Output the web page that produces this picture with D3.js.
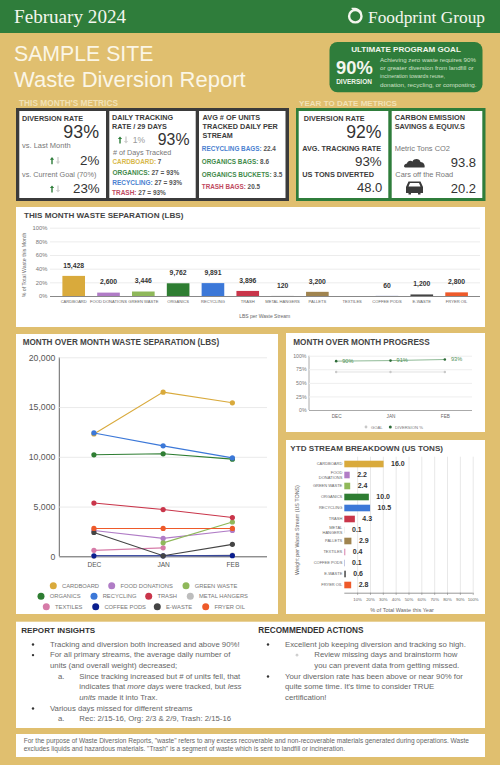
<!DOCTYPE html>
<html><head><meta charset="utf-8">
<script src="https://cdnjs.cloudflare.com/ajax/libs/d3/7.8.5/d3.min.js"></script>
<style>html,body{margin:0;padding:0;background:#e0bf6f}svg{display:block}text{font-family:"Liberation Sans",Arial,sans-serif}</style>
</head><body><svg id="c" width="500" height="765"></svg>
<script>
// ---------- data ----------
const monthStreams = ["CARDBOARD","FOOD DONATIONS","GREEN WASTE","ORGANICS","RECYCLING","TRASH","METAL HANGERS","PALLETS","TEXTILES","COFFEE PODS","E-WASTE","FRYER OIL"];
const streamColors = ["#d9aa3c","#b07cc6","#8fb85a","#2e7d32","#3c78d8","#c9354a","#bdbdbd","#a0844f","#d67ba8","#0b1f8f","#444444","#ee5a2a"];
const monthLbs = [15428,2600,3446,9762,9891,3896,120,3200,0,60,1200,2800];
const months = ["DEC","JAN","FEB"];
const cardboardLbs = [12300,16500,15428];
const foodLbs = [2600,1800,2600];
const greenLbs = [null,1350,3446];
const organicsLbs = [10200,10300,9762];
const recyclingLbs = [12400,11100,9891];
const trashLbs = [5350,4700,3896];
const metalLbs = [0,0,120];
const textilesLbs = [600,850,null];
const coffeeLbs = [50,50,60];
const ewasteLbs = [2400,50,1200];
const fryerLbs = [2800,2800,2800];
const goalPct = [70,70,70];
const diversionPct = [90,91,93];
const ytdTons = [16.0,2.2,2.4,10.0,10.5,4.3,0.1,2.9,0.4,0.1,0.6,2.8];
const lineSeries = [
 [metalLbs,6],[textilesLbs,8],[foodLbs,1],[greenLbs,2],[coffeeLbs,9],[ewasteLbs,10],
 [trashLbs,5],[organicsLbs,3],[cardboardLbs,0],[recyclingLbs,4],[fryerLbs,11]];

const svg = d3.select("#c");
function T(s,x,y,o={}){
  const e=svg.append("text").attr("x",x).attr("y",y).attr("font-size",o.s||6.6).attr("fill",o.c||"#333")
   .attr("font-weight",o.b?"bold":"normal").attr("text-anchor",o.a||"start");
  if(o.f) e.style("font-family",o.f);
  if(o.rot) e.attr("transform",`rotate(-90 ${x} ${y})`);
  if(Array.isArray(s)) s.forEach(p=>{const t=e.append("tspan").text(p[0]); if(p[1]) t.attr("font-style","italic");});
  else e.text(s);
  if(o.w){const base=+e.attr("font-size"); const len=e.node().getComputedTextLength(); if(len>0) e.attr("font-size",base*o.w/len);}
  return e;
}
function fit(str,width,bold){const e=T(str,0,-50,{s:10,b:bold}); const v=10*width/e.node().getComputedTextLength(); e.remove(); return v;}
function R(x0,y0,x1,y1,fill,rx){return svg.append("rect").attr("x",x0).attr("y",y0).attr("width",x1-x0).attr("height",y1-y0).attr("fill",fill).attr("rx",rx||0);}

// ---------- header ----------
const GREEN="#2f7d3b";
R(0,0,500,33,GREEN);
T("February 2024",14,22.6,{w:112,c:"#f4f6ee",f:'"Liberation Serif",serif'});
T("Foodprint Group",485,22.6,{w:117,c:"#f4f6ee",a:"end",f:'"Liberation Serif",serif'});
svg.append("circle").attr("cx",355.3).attr("cy",16.2).attr("r",6.2).attr("fill","none").attr("stroke","#f4f6ee").attr("stroke-width",2.4);
svg.append("path").attr("d","M351 8 C356 7 361 9 362 13 C358 11 354 11 351 8Z").attr("fill","#f4f6ee");
T("SAMPLE SITE",14,60.7,{w:139.5,c:"#fbf6e6"});
T("Waste Diversion Report",14,87,{w:231.7,c:"#fbf6e6"});
R(329.5,42,482.5,92.3,GREEN,8);
T("ULTIMATE PROGRAM GOAL",406,52.3,{w:109.7,b:1,c:"#f2f5ec",a:"middle"});
T("90%",336,74,{w:36.7,b:1,c:"#f4f6ee"});
T("DIVERSION",336.2,84.4,{w:35.7,b:1,c:"#f2f5ec"});
[["Achieving zero waste requires 90%",96,61.7],["or greater diversion from landfill or",93.7,70],["incineration towards reuse,",65,78.3],["donation, recycling, or composting.",96.7,87.2]]
 .forEach(l=>T(l[0],380,l[2],{w:l[1],c:"#cfe0c8"}));

// ---------- metrics ----------
T("THIS MONTH'S METRICS",19,106,{w:99,b:1,c:"#f1e2b7"});
T("YEAR TO DATE METRICS",299,106,{w:98,b:1,c:"#f1e2b7"});
R(16,108,289,201,"#3b3b3b");
[[19.3,106],[109.3,195.7],[199,285.5]].forEach(d=>R(d[0],111,d[1],198,"#fff"));
R(296,108,485.5,201,GREEN);
[[298.7,388.3],[391.7,482.3]].forEach(d=>R(d[0],111,d[1],198,"#fff"));
const HC="#3c3c3c", NC="#777", TXT="#333";
function arrows(x,y){
  const tri=(cx,cy,dir,col)=>{
    svg.append("path").attr("d",`M${cx} ${cy-3.6*dir}L${cx+2.1} ${cy-0.9*dir}L${cx+0.7} ${cy-0.9*dir}L${cx+0.7} ${cy+3.6*dir}L${cx-0.7} ${cy+3.6*dir}L${cx-0.7} ${cy-0.9*dir}L${cx-2.1} ${cy-0.9*dir}Z`).attr("fill",col);
  };
  tri(x,y,1,"#2e7d3a"); tri(x+6,y,-1,"#cfcfcf");
}
T("DIVERSION RATE",22,121.3,{w:61,b:1,c:HC});
T("93%",99,138,{w:35.7,c:TXT,a:"end"});
T("vs. Last Month",22,148.3,{w:48.7,c:NC});
arrows(52,160.7);
T("2%",99.3,165,{w:19.3,c:TXT,a:"end"});
T("vs. Current Goal (70%)",22,176.7,{w:74.3,c:NC});
arrows(52,189);
T("23%",99.7,193,{w:26.7,c:TXT,a:"end"});

T("DAILY TRACKING",112,120,{w:61.3,b:1,c:HC});T("RATE / 29 DAYS",112,128.7,{w:55,b:1,c:HC});
arrows(120,140);
T("1%",132.7,142.7,{w:12.3,c:"#999"});
T("93%",189.5,145,{w:31.7,c:TXT,a:"end"});
T("# of Days Tracked",113,155,{w:58.3,c:NC});
function kv(k,v,col,x,y,w){const e=T("",x,y,{s:6,b:1,c:col});e.text(k);e.append("tspan").text(v).attr("fill","#555");
  e.attr("font-size",6*w/e.node().getComputedTextLength());}
kv("CARDBOARD:"," 7","#d8b84a",112.5,164.3,49);
kv("ORGANICS:"," 27 = 93%","#3f8a4a",112.5,174.7,66.7);
kv("RECYCLING:"," 27 = 93%","#4a7fd0",112.2,185,70);
kv("TRASH:"," 27 = 93%","#c04a60",112,195,54);

T("AVG # OF UNITS",202.5,120.3,{w:57.7,b:1,c:HC});T("TRACKED DAILY PER",202.5,129.3,{w:75.3,b:1,c:HC});T("STREAM",202.5,138,{w:30.3,b:1,c:HC});
kv("RECYCLING BAGS:"," 22.4","#4a7fd0",201.8,151.3,74.3);
kv("ORGANICS BAGS:"," 8.6","#3f8a4a",201.8,163.7,67.3);
kv("ORGANICS BUCKETS:"," 3.5","#3f8a4a",201.8,176.7,80.7);
kv("TRASH BAGS:"," 20.5","#c04a60",201.8,189,58.3);

T("DIVERSION RATE",303.7,121,{w:61,b:1,c:HC});
T("92%",381.5,138,{w:35.3,c:TXT,a:"end"});
T("AVG. TRACKING RATE",302.3,151,{w:78.7,b:1,c:HC});
T("93%",381.7,165.7,{w:26.7,c:TXT,a:"end"});
T("US TONS DIVERTED",302.3,177.3,{w:71.7,b:1,c:HC});
T("48.0",382.3,192.3,{w:25.3,c:TXT,a:"end"});

T("CARBON EMISSION",394.7,120.3,{w:70.3,b:1,c:HC});T("SAVINGS & EQUIV.S",394.7,129.3,{w:70.3,b:1,c:HC});
T("Metric Tons CO2",394.7,151,{w:55.3,c:NC});
svg.append("path").attr("d","M405.5 167.5 C403 167.5 404 163.5 407 163.5 C407.5 160.5 411 160 412.5 161.5 C414 158 420 158.5 420.5 162 C423 161.8 425.5 165 424.5 167.5Z").attr("fill","#3a3a3a");
T("93.8",476,167,{w:25.3,c:TXT,a:"end"});
T("Cars off the Road",395.3,176.7,{w:58,c:NC});
svg.append("path").attr("d","M408.5 181.5 H420.5 L423 187 V193 H420.5 V194.5 H418 V193 H411 V194.5 H408.5 V193 H406 V187Z M410 183 L408.5 186.5 H420.5 L419 183Z").attr("fill","#3a3a3a").attr("fill-rule","evenodd");
T("20.2",476,192.5,{w:25.3,c:TXT,a:"end"});

// ---------- this month bars ----------
R(16,207,485,327,"#fff");
T("THIS MONTH WASTE SEPARATION (LBS)",24,218.3,{w:159.3,b:1,c:"#444"});
const monthTotal=d3.sum(monthLbs);
const bx=d3.scaleBand().domain(monthStreams).range([56.3,474]).paddingInner(0.35).paddingOuter(0.175);
const by=d3.scaleLinear().domain([0,100]).range([296,227.7]);
const g1=svg.append("g");
g1.append("g").attr("transform","translate(50,0)").call(d3.axisLeft(by).tickValues([0,20,40,60,80,100]).tickSize(-430).tickPadding(2.7).tickFormat(d=>d+"%"))
  .call(a=>{a.select(".domain").remove();a.selectAll("line").attr("stroke","#ececec");a.selectAll("text").attr("font-size",5.8).attr("fill","#777");});
g1.selectAll(".b").data(monthStreams).join("rect").attr("x",d=>bx(d)).attr("width",bx.bandwidth())
  .attr("y",(d,i)=>by(monthLbs[i]/monthTotal*100)).attr("height",(d,i)=>by(0)-by(monthLbs[i]/monthTotal*100)).attr("fill",(d,i)=>streamColors[i]);
g1.append("g").attr("transform","translate(0,296)").call(d3.axisBottom(bx).tickSize(0).tickPadding(4))
  .call(a=>{a.select(".domain").attr("stroke","#888").attr("d","M50,0.5H480");a.selectAll("text").attr("font-size",4.1).attr("fill","#666");});
g1.selectAll(".v").data(monthStreams).join("text").filter((d,i)=>monthLbs[i]>0)
  .attr("x",d=>bx(d)+bx.bandwidth()/2).attr("y",d=>by(monthLbs[monthStreams.indexOf(d)]/monthTotal*100)-8.2)
  .attr("text-anchor","middle").attr("font-size",6.8).attr("font-weight","bold").attr("fill","#333")
  .text(d=>d3.format(",")(monthLbs[monthStreams.indexOf(d)]));
T("% of Total Waste this Month",25.5,265,{w:64.7,c:"#666",a:"middle",rot:1});
T("LBS per Waste Stream",264.7,318,{w:51.3,c:"#666",a:"middle"});

// ---------- month over month ----------
R(16,334,278,614,"#fff");
T("MONTH OVER MONTH WASTE SEPARATION (LBS)",22.7,345,{w:196.7,b:1,c:"#444"});
const lx=d3.scalePoint().domain(months).range([59.3,267]).padding(0.5);
const ly=d3.scaleLinear().domain([0,20000]).range([556.3,357.3]);
const g2=svg.append("g");
g2.append("g").attr("transform","translate(59.3,0)").call(d3.axisLeft(ly).tickValues([0,5000,10000,15000,20000]).tickSize(-207.7).tickPadding(4).tickFormat(d3.format(",")))
  .call(a=>{a.select(".domain").attr("stroke","#666").attr("d","M0,556.3V357.3");a.selectAll("line").attr("stroke","#eaeaea");a.selectAll("text").attr("font-size",8.7).attr("fill","#555");});
g2.append("g").attr("transform","translate(0,556.3)").call(d3.axisBottom(lx).tickSize(0).tickPadding(6))
  .call(a=>{a.select(".domain").attr("stroke","#666").attr("d","M59.3,0.5H267");a.selectAll("text").attr("font-size",6.6).attr("fill","#555");});
const line=d3.line().defined(d=>d!==null).x((d,i)=>lx(months[i])).y(d=>ly(d));
lineSeries.forEach(s=>{
  const col=streamColors[s[1]];
  const segs=svg.append("g");
  segs.append("path").attr("d",line(s[0])).attr("fill","none").attr("stroke",col).attr("stroke-width",1.1);
  segs.selectAll("circle").data(s[0].map((v,i)=>[v,i]).filter(d=>d[0]!==null)).join("circle")
    .attr("cx",d=>lx(months[d[1]])).attr("cy",d=>ly(d[0])).attr("r",2.6).attr("fill",col);
});
const legendCircleX=[[53.3,0],[111.7,1],[186,2],[41,3],[94,4],[148.7,5],[190.3,6],[46.3,8],[95.7,9],[157.3,10],[205.7,11]];
const legendRowY=[585.7,585.7,585.7,596.3,596.3,596.3,596.3,606.8,606.8,606.8,606.8];
svg.append("g").selectAll("circle").data(legendCircleX).join("circle").attr("cx",d=>d[0]).attr("cy",(d,i)=>legendRowY[i]).attr("r",3.5).attr("fill",d=>streamColors[d[1]]);
legendCircleX.forEach((d,i)=>T(monthStreams[d[1]],d[0]+8.7,legendRowY[i]+2,{s:5.8,c:"#777"}));

// ---------- progress ----------
R(286,333,485,432,"#fff");
T("MONTH OVER MONTH PROGRESS",293.3,345,{w:136.7,b:1,c:"#444"});
const px=d3.scalePoint().domain(months).range([309,472]).padding(0.5);
const py=d3.scaleLinear().domain([0,100]).range([410,355.7]);
const g3=svg.append("g");
g3.append("g").attr("transform","translate(309,0)").call(d3.axisLeft(py).tickValues([0,25,50,75,100]).tickSize(-163).tickPadding(2.5).tickFormat(d=>d+"%"))
  .call(a=>{a.select(".domain").attr("stroke","#aaa").attr("d","M0,410V355.7");a.selectAll("line").attr("stroke","#eeeeee");a.selectAll("text").attr("font-size",5.2).attr("fill","#777");});
g3.append("g").attr("transform","translate(0,410)").call(d3.axisBottom(px).tickSize(0).tickPadding(5))
  .call(a=>{a.select(".domain").attr("stroke","#aaa").attr("d","M309,0.5H472");a.selectAll("text").attr("font-size",4.7).attr("fill","#666");});
const pl=d3.line().x((d,i)=>px(months[i])).y(d=>py(d));
g3.append("path").attr("d",pl(goalPct)).attr("fill","none").attr("stroke","#d4d4d4").attr("stroke-width",.7);
g3.selectAll(".g").data(goalPct).join("circle").attr("cx",(d,i)=>px(months[i])).attr("cy",d=>py(d)).attr("r",1.2).attr("fill","#c8c8c8");
g3.append("path").attr("d",pl(diversionPct)).attr("fill","none").attr("stroke","#5f9c68").attr("stroke-width",.7);
g3.selectAll(".d").data(diversionPct).join("circle").attr("cx",(d,i)=>px(months[i])).attr("cy",d=>py(d)).attr("r",1.3).attr("fill","#2e6b38");
g3.selectAll(".l").data(diversionPct).join("text").attr("x",(d,i)=>px(months[i])+11.7).attr("y",d=>py(d)+1.8)
  .attr("text-anchor","middle").attr("font-size",5.6).attr("fill","#4f9158")
  .attr("stroke","#fff").attr("stroke-width",0).text(d=>d+"%");
svg.append("circle").attr("cx",366).attr("cy",427).attr("r",1.4).attr("fill","#c8c8c8");
T("GOAL",371,428.5,{w:11.7,c:"#777"});
svg.append("circle").attr("cx",390.3).attr("cy",427).attr("r",1.5).attr("fill","#2e6b38");
T("DIVERSION %",395,428.5,{w:28,c:"#777"});

// ---------- YTD ----------
R(286,440,485,614,"#fff");
T("YTD STREAM BREAKDOWN (US TONS)",290.3,451.3,{w:153,b:1,c:"#444"});
const ytdTotal=d3.sum(ytdTons);
const yx=d3.scaleLinear().domain([0,100]).range([344.3,472.7]);
const yy=d3.scaleBand().domain(monthStreams).range([458.5,590.5]).paddingInner(0.4).paddingOuter(0.2);
const g4=svg.append("g");
g4.append("g").attr("transform","translate(0,592.7)").call(d3.axisTop(yx).tickValues(d3.range(10,101,10)).tickSize(136).tickFormat(""))
  .call(a=>{a.select(".domain").remove();a.selectAll("line").attr("stroke","#e8e8e8");});
g4.append("g").attr("transform","translate(0,592.7)").call(d3.axisBottom(yx).tickValues(d3.range(10,101,10)).tickSize(2).tickPadding(3).tickFormat(d=>d+"%"))
  .call(a=>{a.select(".domain").attr("stroke","#999").attr("d","M344.3,0.5H472.7");a.selectAll("line").attr("stroke","#999");a.selectAll("text").attr("font-size",4.3).attr("fill","#666");});
g4.selectAll(".b").data(monthStreams).join("rect").attr("x",yx(0)).attr("y",d=>yy(d)).attr("height",yy.bandwidth())
  .attr("width",(d,i)=>yx(ytdTons[i]/ytdTotal*100)-yx(0)).attr("fill",(d,i)=>streamColors[i]);
g4.selectAll(".v").data(monthStreams).join("text").attr("x",(d,i)=>yx(ytdTons[i]/ytdTotal*100)+7.5)
  .attr("y",d=>yy(d)+yy.bandwidth()/2+2.4).attr("font-size",7).attr("font-weight","bold").attr("fill","#333").text((d,i)=>ytdTons[i].toFixed(1));
const wrapLabels={"FOOD DONATIONS":["FOOD","DONATIONS"],"METAL HANGERS":["METAL","HANGERS"]};
monthStreams.forEach(n=>{
  const c=yy(n)+yy.bandwidth()/2, w=wrapLabels[n];
  if(w){T(w[0],342.3,c-0.9,{s:4,c:"#666",a:"end"});T(w[1],342.3,c+4,{s:4,c:"#666",a:"end"});}
  else T(n,342.3,c+1.4,{s:4,c:"#666",a:"end"});
});
T("Weight per Waste Stream (US TONS)",299,530,{w:90,c:"#666",a:"middle",rot:1});
T("% of Total Waste this Year",402,611.5,{w:63.7,c:"#666",a:"middle"});

// ---------- report ----------
R(16,621.7,485,728,"#fff");
T("REPORT INSIGHTS",21.3,633,{w:74,b:1,c:"#333"});
T("RECOMMENDED ACTIONS",258.3,633,{w:105.3,b:1,c:"#333"});
const B={s:fit("Tracking and diversion both increased and above 90%!",190,false),c:"#666"};
const by0=[646.7,657.3,668,678.7,689.3,700,710.7,721.3];
const leftLines=[[50,"Tracking and diversion both increased and above 90%!",33],[50,"For all primary streams, the average daily number of",33],[50,"units (and overall weight) decreased;"],
 [79.3,"Since tracking increased but # of units fell, that","a"],[79.3,[["indicates that "],["more days",1],[" were tracked, but "],["less",1]]],[79.3,[["units",1],[" made it into Trax."]]],
 [50,"Various days missed for different streams",33],[79.3,"Rec: 2/15-16, Org: 2/3 & 2/9, Trash: 2/15-16","a"]];
leftLines.forEach((l,i)=>{T(l[1],l[0],by0[i],B);
  if(l[2]===33) svg.append("circle").attr("cx",33).attr("cy",by0[i]-2.2).attr("r",1.2).attr("fill","#333");
  if(l[2]==="a") T("a.",58,by0[i],B);});
const rightLines=[[285,"Excellent job keeping diversion and tracking so high.","b"],[314.3,"Review missing days and brainstorm how","o"],[314.3,"you can prevent data from getting missed."],
 [285,"Your diversion rate has been above or near 90% for","b"],[285,"quite some time. It's time to consider TRUE"],[285,"certification!"]];
rightLines.forEach((l,i)=>{T(l[1],l[0],by0[i],B);
  if(l[2]==="b") svg.append("circle").attr("cx",268).attr("cy",by0[i]-2.2).attr("r",1.2).attr("fill","#333");
  if(l[2]==="o") svg.append("circle").attr("cx",297).attr("cy",by0[i]-2.2).attr("r",1).attr("fill","none").attr("stroke","#777").attr("stroke-width",.4);});

R(16,734,485,757,"#fff");
const F={s:fit('For the purpose of Waste Diversion Reports, "waste" refers to any excess recoverable and non-recoverable materials generated during operations. Waste',446,false),c:"#666"};
T('For the purpose of Waste Diversion Reports, "waste" refers to any excess recoverable and non-recoverable materials generated during operations. Waste',23.7,742.7,F);
T('excludes liquids and hazardous materials. "Trash" is a segment of waste which is sent to landfill or incineration.',23.7,751.3,F);
</script></body></html>
